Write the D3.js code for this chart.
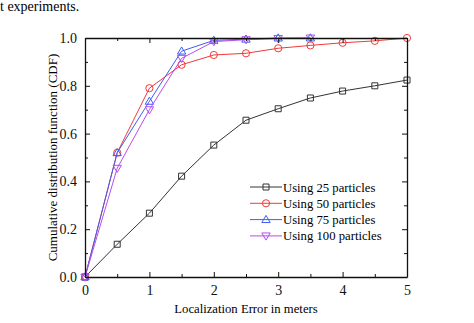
<!DOCTYPE html>
<html><head><meta charset="utf-8">
<script src="https://cdn.jsdelivr.net/npm/d3@7"></script>
<style>body{margin:0;background:#fff}svg{display:block}text{font-family:"Liberation Serif","DejaVu Serif",serif}</style>
</head><body>
<script>
const xs = [0,0.5,1,1.5,2,2.5,3,3.5,4,4.5,5];
const xsShort = [0,0.5,1,1.5,2,2.5,3,3.5];
const p25 = [0,0.137,0.267,0.422,0.552,0.656,0.704,0.749,0.778,0.800,0.824];
const p50 = [0,0.52,0.79,0.888,0.929,0.936,0.957,0.969,0.980,0.988,1.0];
const p75 = [0,0.52,0.735,0.945,0.99,0.995,1.0,1.0];
const p100 = [0,0.455,0.70,0.915,0.985,0.993,0.998,1.0];
const seriesNames = ["Using 25 particles","Using 50 particles","Using 75 particles","Using 100 particles"];
const seriesColors = ["#333333","#f03a3a","#3f5ef0","#b84cf0"];
const seriesMarkers = ["square","circle","triangle","triangleDown"];
const xTicks = [0,1,2,3,4,5];
const yTicks = [0,0.2,0.4,0.6,0.8,1.0];

const series = [
  {x:xs, y:p25}, {x:xs, y:p50}, {x:xsShort, y:p75}, {x:xsShort, y:p100}
].map((s,i)=>({name:seriesNames[i], color:seriesColors[i], marker:seriesMarkers[i], pts:s.x.map((v,j)=>[v,s.y[j]])}));

const W=474,H=323;
const m={l:85,r:67,t:38,b:46};
const svg=d3.select("body").append("svg").attr("width",W).attr("height",H);
const x=d3.scaleLinear().domain([0,5]).range([m.l,W-m.r]);
const y=d3.scaleLinear().domain([0,1]).range([H-m.b,m.t]);

svg.append("text").attr("x",0).attr("y",10.5).attr("font-size",14).text("t experiments.");

function markerPath(type, cx, cy){
  if(type==="square"){const s=3;return `M${cx-s},${cy-s}h${2*s}v${2*s}h${-2*s}Z`;}
  if(type==="circle"){const r=3.6;return `M${cx-r},${cy}a${r},${r} 0 1,0 ${2*r},0a${r},${r} 0 1,0 ${-2*r},0`;}
  if(type==="triangle"){const s=4.2;return `M${cx},${cy-s}L${cx+s},${cy+s*0.7}L${cx-s},${cy+s*0.7}Z`;}
  const s=4.2;return `M${cx},${cy+s}L${cx+s},${cy-s*0.7}L${cx-s},${cy-s*0.7}Z`;
}

const line=d3.line().x(d=>x(d[0])).y(d=>y(d[1]));
const g=svg.append("g");
series.forEach(s=>{
  g.append("path").attr("d",line(s.pts)).attr("fill","none").attr("stroke",s.color).attr("stroke-width",1);
  g.selectAll(null).data(s.pts).enter().append("path")
    .attr("d",d=>markerPath(s.marker,x(d[0]),y(d[1])))
    .attr("fill","none").attr("stroke",s.color).attr("stroke-width",1);
});

const xMinor=d3.range(0.5,5,1), yMinor=d3.range(0.1,1,0.2);
function addAxis(axisFn, scale, pos, major, minor, showLabels, fmt){
  const a=svg.append("g").attr("transform",pos);
  a.call(axisFn(scale).tickValues(major).tickSizeInner(-5).tickSizeOuter(0).tickPadding(showLabels?8:0).tickFormat(showLabels?fmt:()=>""));
  a.append("g").call(axisFn(scale).tickValues(minor).tickSizeInner(-3).tickSizeOuter(0).tickFormat(()=>""))
   .select(".domain").remove();
  a.selectAll("text").attr("font-size",14).attr("fill","#111").attr("font-family","Liberation Serif");
  a.selectAll("line").attr("stroke","#111");
  a.select(".domain").attr("stroke","#111").attr("stroke-width",1.3);
  return a;
}
addAxis(d3.axisBottom,x,`translate(0,${H-m.b})`,xTicks,xMinor,true,d3.format("d"));
addAxis(d3.axisTop,x,`translate(0,${m.t})`,xTicks,xMinor,false);
addAxis(d3.axisLeft,y,`translate(${m.l},0)`,yTicks,yMinor,true,d3.format(".1f"));
addAxis(d3.axisRight,y,`translate(${W-m.r},0)`,yTicks,yMinor,false);

svg.append("text").attr("x",(m.l+W-m.r)/2).attr("y",H-10).attr("text-anchor","middle").attr("font-size",12.7).text("Localization Error in meters");
svg.append("text").attr("transform",`translate(57,${(m.t+H-m.b)/2}) rotate(-90)`).attr("text-anchor","middle").attr("font-size",13).text("Cumulative distribution function (CDF)");

const leg=svg.append("g");
series.forEach((s,i)=>{
  const yy=187+i*16.3;
  leg.append("line").attr("x1",250).attr("x2",282).attr("y1",yy).attr("y2",yy).attr("stroke",s.color);
  leg.append("path").attr("d",markerPath(s.marker,266,yy)).attr("fill","none").attr("stroke",s.color);
  leg.append("text").attr("x",283).attr("y",yy+4.5).attr("font-size",12.7).text(s.name);
});
</script>
</body></html>
